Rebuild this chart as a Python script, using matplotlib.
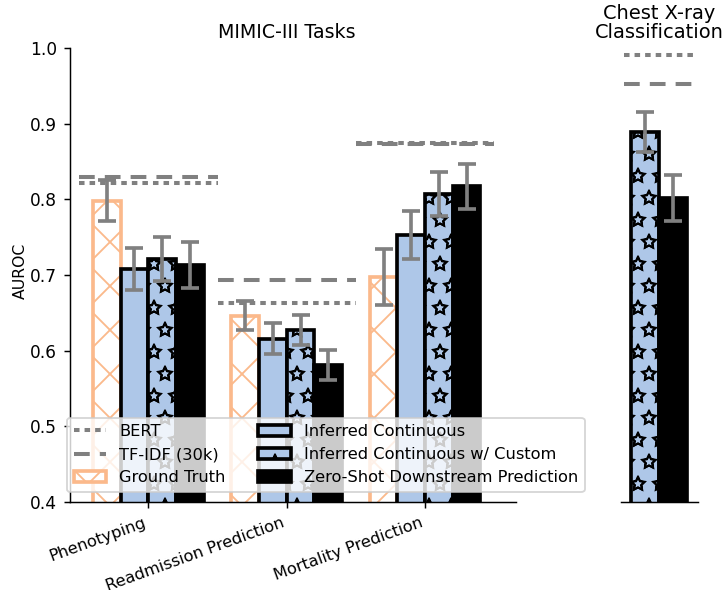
import matplotlib
matplotlib.use("Agg")
import matplotlib.pyplot as plt
import matplotlib.hatch as mhatch
import numpy as np
from matplotlib.lines import Line2D
import matplotlib.transforms as mtransforms

# ---------------- data ----------------
tasks = ["Phenotyping", "Readmission Prediction", "Mortality Prediction"]
ground_truth = [0.798, 0.646, 0.698]
ground_truth_err = [0.027, 0.019, 0.037]
inferred = [0.708, 0.616, 0.753]
inferred_err = [0.028, 0.020, 0.032]
inferred_custom = [0.721, 0.627, 0.807]
inferred_custom_err = [0.029, 0.020, 0.029]
zero_shot = [0.713, 0.581, 0.817]
zero_shot_err = [0.030, 0.020, 0.030]
bert = [0.821, 0.663, 0.875]
tfidf = [0.830, 0.694, 0.873]

cxr_custom = [0.889]
cxr_custom_err = [0.027]
cxr_zero_shot = [0.802]
cxr_zero_shot_err = [0.030]
cxr_bert = [0.991]
cxr_tfidf = [0.952]

yticks = [0.4, 0.5, 0.6, 0.7, 0.8, 0.9, 1.0]


# open (outlined) star hatch
class OpenStars(mhatch.Stars):
    filled = False


mhatch._hatch_types = [OpenStars if t is mhatch.Stars else t for t in mhatch._hatch_types]

# ---------------- style ----------------
DPI = 132
GRAY = "#808080"
BLUE = "#aec7e8"
ORANGE = "#fbb98b"
W = 0.2
err_kw = dict(ecolor=GRAY, elinewidth=2, capsize=5, capthick=2)
LW = 2.2
DOT = (0, (1.37, 1.25))
DASH = (0, (3.9, 2.5))

fig = plt.figure(figsize=(726 / DPI, 590 / DPI), dpi=DPI)
ax = fig.add_axes([70 / 726, 88 / 590, 446 / 726, 454 / 590])
ax2 = fig.add_axes([621 / 726, 88 / 590, 76.7 / 726, 454 / 590])

x = np.arange(len(tasks))

# baselines
for i in range(len(tasks)):
    ax.plot([x[i] - 0.5, x[i] + 0.5], [bert[i]] * 2, ls=DOT, color=GRAY, lw=LW)
    ax.plot([x[i] - 0.5, x[i] + 0.5], [tfidf[i]] * 2, ls=DASH, color=GRAY, lw=LW)

b_gt = ax.bar(x - 0.3, ground_truth, W, yerr=ground_truth_err, color="white",
              edgecolor=ORANGE, hatch="x", lw=2, error_kw=err_kw, label="Ground Truth")
b_ic = ax.bar(x - 0.1, inferred, W, yerr=inferred_err, color=BLUE,
              edgecolor="black", lw=2, error_kw=err_kw, label="Inferred Continuous")
b_cu = ax.bar(x + 0.1, inferred_custom, W, yerr=inferred_custom_err, color=BLUE,
              edgecolor="black", hatch="*", lw=2, error_kw=err_kw,
              label="Inferred Continuous w/ Custom")
b_zs = ax.bar(x + 0.3, zero_shot, W, yerr=zero_shot_err, color="black",
              edgecolor="black", lw=2, error_kw=err_kw,
              label="Zero-Shot Downstream Prediction")

ax.set_xlim(-0.566, 2.657)
ax.set_ylim(0.4, 1.0)
ax.set_yticks(yticks)
ax.set_yticklabels([f"{v:.1f}" for v in yticks], fontsize=9.3)
ax.set_xticks(x)
ax.set_xticklabels(tasks, rotation=20, ha="right", fontsize=8.9)
ax.spines["top"].set_visible(False)
ax.spines["right"].set_visible(False)
ax.set_ylabel("AUROC", fontsize=8.5)
ax.yaxis.set_label_coords(-0.094, 0.51)

trans = mtransforms.blended_transform_factory(ax.transData, ax.transAxes)
ax.annotate("MIMIC-III Tasks", xy=(1, 1.0), xycoords=trans, xytext=(0, 3),
            textcoords="offset points", ha="center", va="bottom", fontsize=10.4)

lb_h = Line2D([], [], ls=DOT, color=GRAY, lw=LW)
lt_h = Line2D([], [], ls=DASH, color=GRAY, lw=LW)
leg = ax.legend([lb_h, lt_h, b_gt, b_ic, b_cu, b_zs],
                ["BERT", "TF-IDF (30k)", "Ground Truth", "Inferred Continuous",
                 "Inferred Continuous w/ Custom", "Zero-Shot Downstream Prediction"],
                ncol=2, loc="lower left", fontsize=8.9,
                bbox_to_anchor=(67 / 726, 98 / 590), bbox_transform=fig.transFigure,
                borderaxespad=0)

# chest x-ray panel
ax2.plot([-0.25, 0.25], [cxr_bert[0]] * 2, ls=DOT, color=GRAY, lw=LW)
ax2.plot([-0.25, 0.25], [cxr_tfidf[0]] * 2, ls=DASH, color=GRAY, lw=LW)
ax2.bar([-0.1], cxr_custom, W, yerr=cxr_custom_err, color=BLUE, edgecolor="black",
        hatch="*", lw=2, error_kw=err_kw)
ax2.bar([0.1], cxr_zero_shot, W, yerr=cxr_zero_shot_err, color="black",
        edgecolor="black", lw=2, error_kw=err_kw)
ax2.set_xlim(-0.275, 0.275)
ax2.set_ylim(0.4, 1.0)
ax2.set_xticks([])
ax2.set_yticks([])
for s in ["top", "right", "left"]:
    ax2.spines[s].set_visible(False)
ax2.annotate("Chest X-ray\nClassification", xy=(0.5, 1.0), xycoords="axes fraction",
             xytext=(0, 3), textcoords="offset points", ha="center", va="bottom",
             fontsize=10.6, linespacing=1.05)

fig.savefig("out.png", dpi=DPI)
